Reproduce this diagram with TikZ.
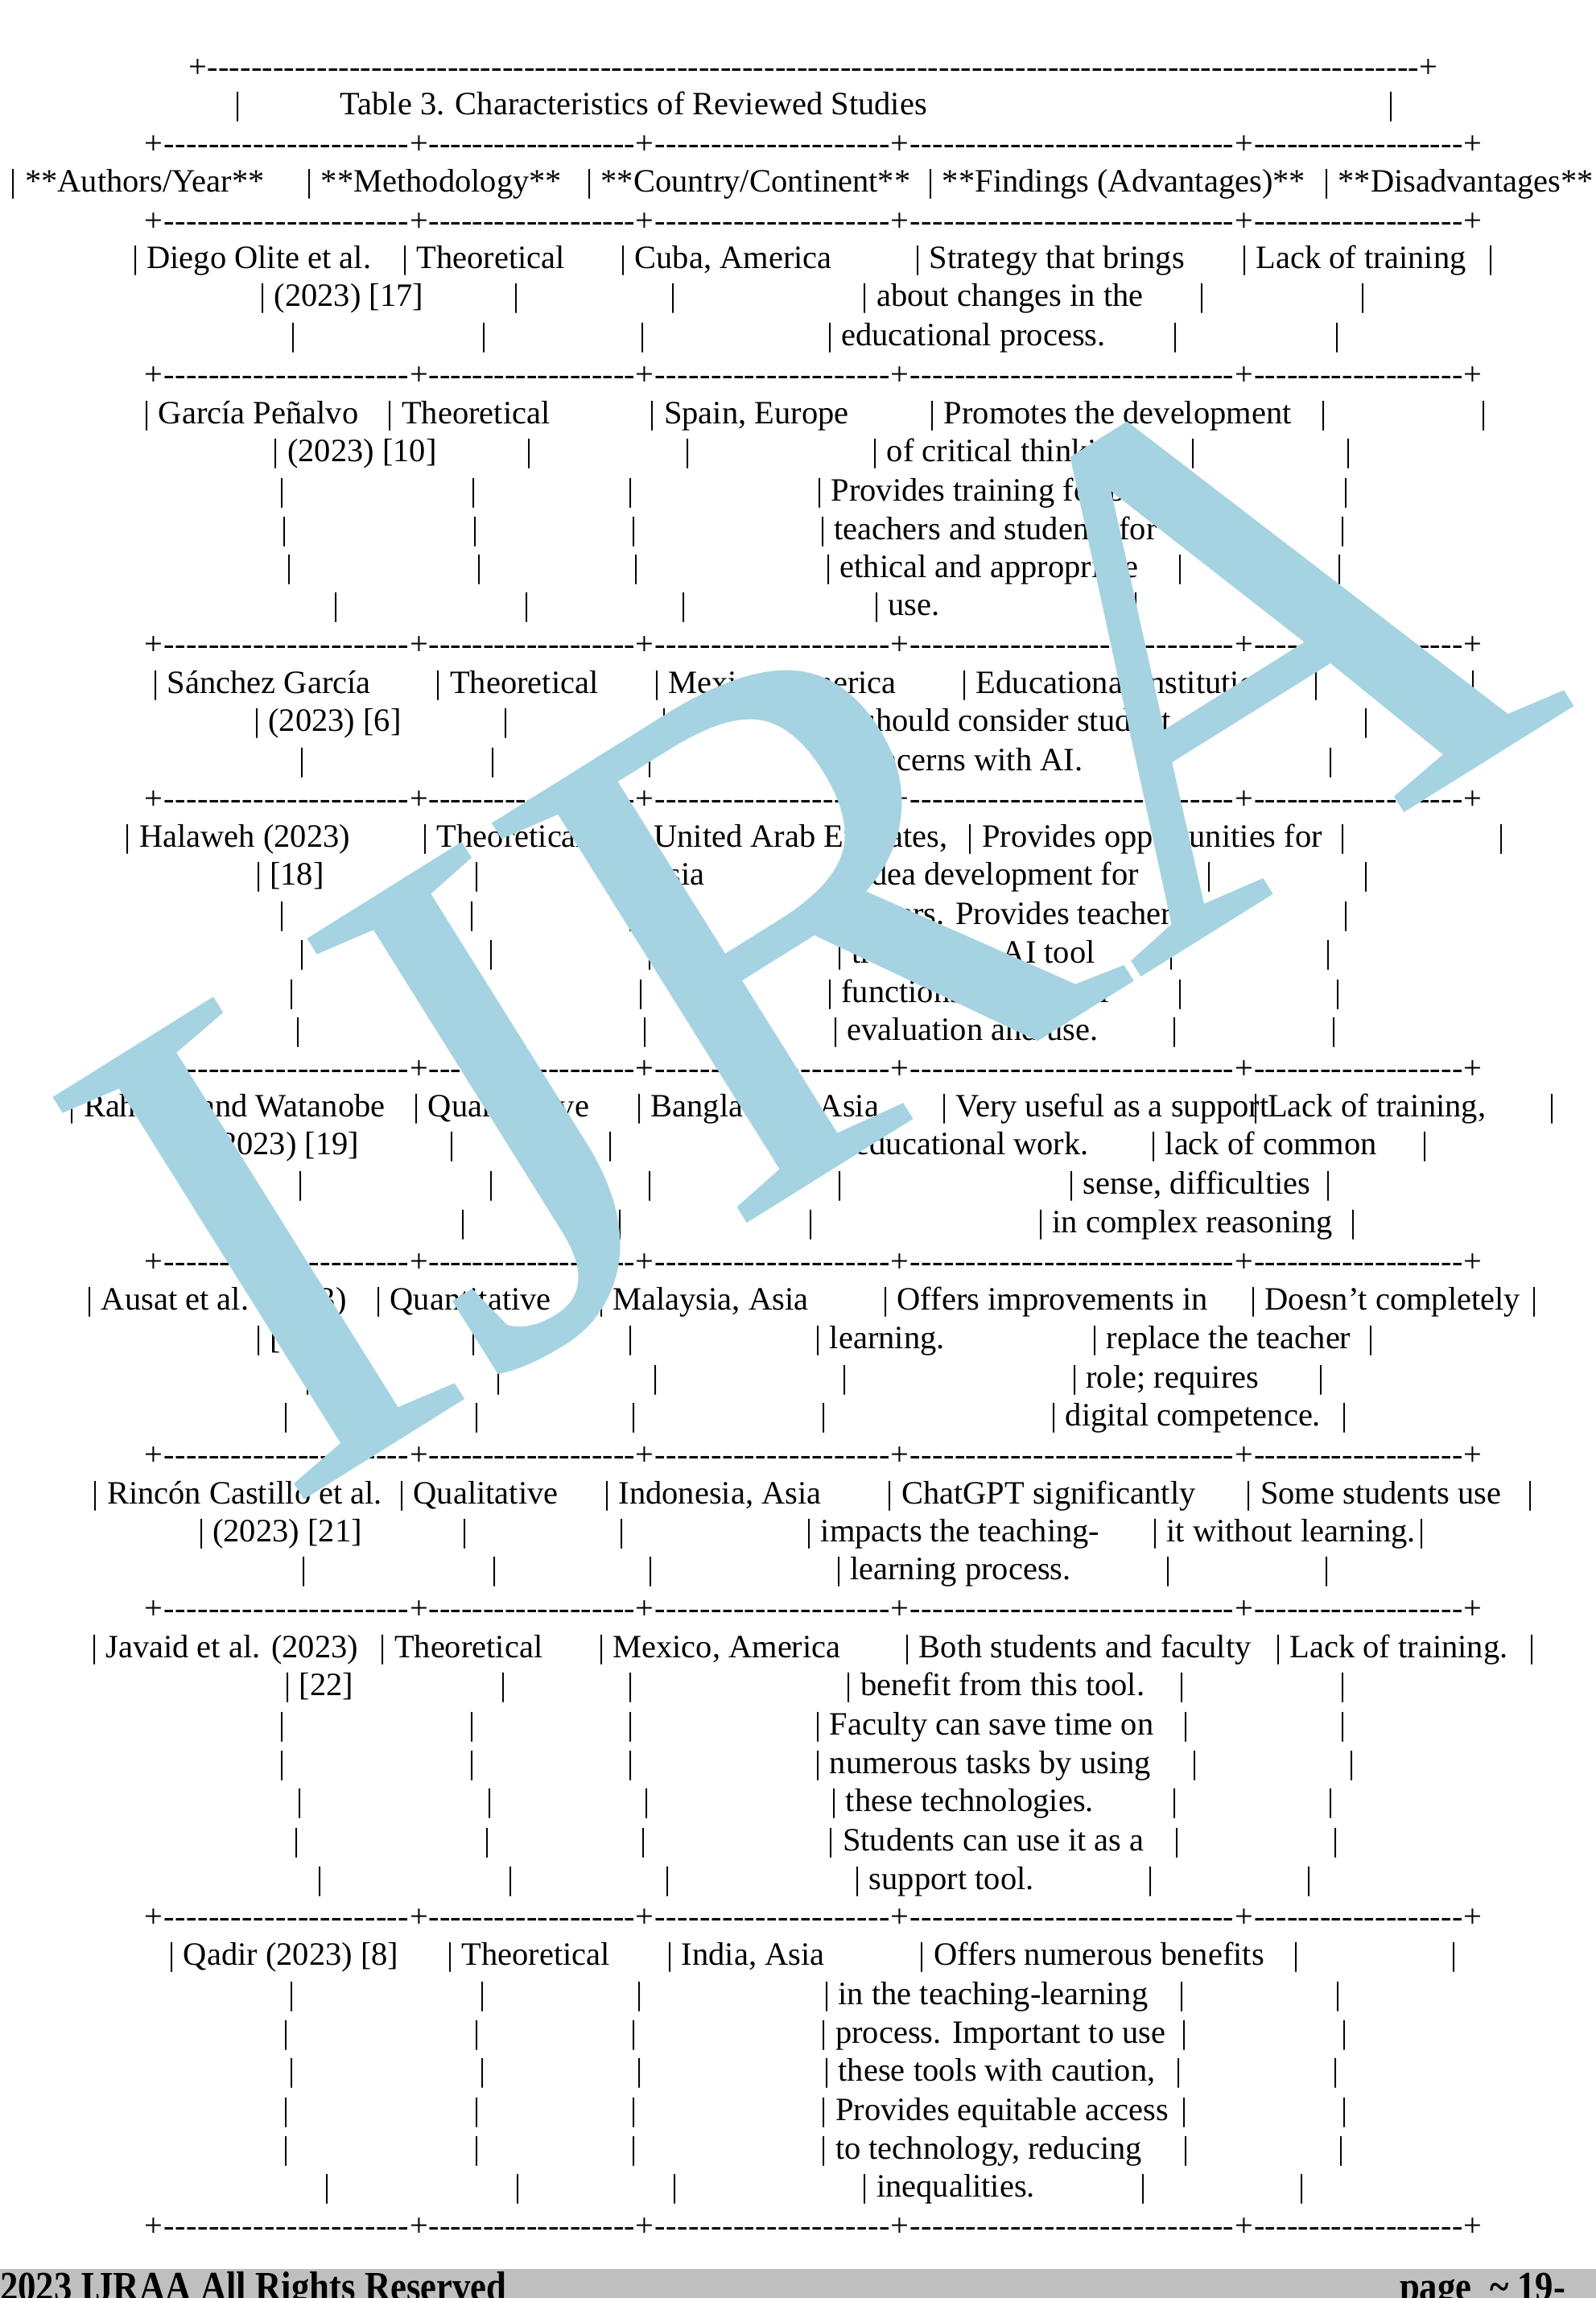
\documentclass[tikz,border=0pt]{standalone}
\usepackage{fontspec}
\setmainfont{Liberation Serif}
\begin{document}
\begin{tikzpicture}[x=1.821pt,y=-1.821pt,
  txt/.style={anchor=base west,inner sep=0pt,font=\fontsize{40.5}{44}\selectfont}]
\useasboundingbox (0,0) rectangle (1089,1568);
\clip (0,0) rectangle (1089,1568);
\fill[white] (0,0) rectangle (1089,1568);
\newcommand\Tx[3]{\node[txt] at ({#1},{#2+7}) {#3};}
\newcommand\Pp[2]{\node[txt] at ({#1},{#2+7}) {|};}
\newcommand\Sep[1]{%
  \foreach \a/\b in {105/286,286/440,440/614,614/849,849/1005}{%
    \pgfmathsetmacro\w{(\b-\a)*1.821-24}
    \node[txt,anchor=base] at ({(\a+\b)/2},{#1+7}) {\makebox[\w pt]{\xleaders\hbox{-}\hfill}};}
  \foreach \a in {105,286,440,614,849,1005}{\node[txt,anchor=base] at (\a,{#1+7}) {+};}}
% top line
\pgfmathsetmacro\w{(975-135)*1.821-24}
\node[txt,anchor=base] at (555,53) {\makebox[\w pt]{\xleaders\hbox{-}\hfill}};
\node[txt,anchor=base] at (135,53) {+};
\node[txt,anchor=base] at (975,53) {+};
\Pp{160}{71}\Tx{232}{71}{Table 3. Characteristics of Reviewed Studies}\Pp{947}{71}
\Sep{98}
\Tx{7}{124}{| **Authors/Year**}\Tx{209}{124}{| **Methodology**}\Tx{400}{124}{| **Country/Continent**}\Tx{633}{124}{| **Findings (Advantages)**}\Tx{903}{124}{| **Disadvantages**}
\Sep{151}
% row 1
\Tx{90}{176}{| Diego Olite et al.}\Tx{274}{176}{| Theoretical}\Tx{423}{176}{| Cuba, America}\Tx{624}{176}{| Strategy that brings}\Tx{847}{176}{| Lack of training}\Pp{1015}{176}
\Tx{177}{202}{| (2023) [17]}\Pp{350}{202}\Pp{457}{202}\Tx{588}{202}{| about changes in the}\Pp{818}{202}\Pp{928}{202}
\Pp{198}{229}\Pp{328}{229}\Pp{436}{229}\Tx{564}{229}{| educational process.}\Pp{800}{229}\Pp{910}{229}
\Sep{256}
% row 2
\Tx{98}{282}{| García Peñalvo}\Tx{264}{282}{| Theoretical}\Tx{443}{282}{| Spain, Europe}\Tx{634}{282}{| Promotes the development}\Pp{901}{282}\Pp{1010}{282}
\Tx{186}{308}{| (2023) [10]}\Pp{359}{308}\Pp{467}{308}\Tx{595}{308}{| of critical thinking.}\Pp{812}{308}\Pp{918}{308}
\Pp{190}{335}\Pp{321}{335}\Pp{428}{335}\Tx{557}{335}{| Provides training for both}\Pp{810}{335}\Pp{916}{335}
\Pp{192}{361}\Pp{322}{361}\Pp{430}{361}\Tx{559}{361}{| teachers and students for}\Pp{807}{361}\Pp{914}{361}
\Pp{195}{387}\Pp{325}{387}\Pp{432}{387}\Tx{563}{387}{| ethical and appropriate}\Pp{803}{387}\Pp{912}{387}
\Pp{227}{413}\Pp{357}{413}\Pp{464}{413}\Tx{596}{413}{| use.}\Pp{773}{413}\Pp{881}{413}
\Sep{440}
% row 3
\Tx{104}{466}{| Sánchez García}\Tx{297}{466}{| Theoretical}\Tx{446}{466}{| Mexico, America}\Tx{656}{466}{| Educational institutions}\Pp{896}{466}\Pp{1003}{466}
\Tx{173}{492}{| (2023) [6]}\Pp{343}{492}\Pp{451}{492}\Tx{579}{492}{| should consider student}\Pp{823}{492}\Pp{930}{492}
\Pp{204}{519}\Pp{334}{519}\Pp{441}{519}\Tx{570}{519}{| concerns with AI.}\Pp{796}{519}\Pp{906}{519}
\Sep{545}
% row 4
\Tx{85}{571}{| Halaweh (2023)}\Tx{288}{571}{| Theoretical}\Tx{436}{571}{| United Arab Emirates,}\Tx{660}{571}{| Provides opportunities for}\Pp{914}{571}\Pp{1022}{571}
\Tx{174}{597}{| [18]}\Pp{323}{597}\Tx{430}{597}{| Asia}\Tx{578}{597}{| idea development for}\Pp{823}{597}\Pp{930}{597}
\Pp{190}{624}\Pp{320}{624}\Pp{428}{624}\Tx{556}{624}{| teachers. Provides teacher}\Pp{810}{624}\Pp{916}{624}
\Pp{204}{650}\Pp{333}{650}\Pp{441}{650}\Tx{571}{650}{| training on AI tool}\Pp{797}{650}\Pp{904}{650}
\Pp{197}{677}\Pp{327}{677}\Pp{435}{677}\Tx{564}{677}{| functions and proper}\Pp{803}{677}\Pp{911}{677}
\Pp{201}{703}\Pp{330}{703}\Pp{438}{703}\Tx{568}{703}{| evaluation and use.}\Pp{799}{703}\Pp{908}{703}
\Sep{729}
% row 5
\Tx{47}{755}{| Rahman and Watanobe}\Tx{282}{755}{| Quantitative}\Tx{434}{755}{| Bangladesh, Asia}\Tx{642}{755}{| Very useful as a support}\Tx{855}{755}{| Lack of training,}\Pp{1057}{755}
\Tx{133}{781}{| (2023) [19]}\Pp{306}{781}\Pp{414}{781}\Tx{542}{781}{| for educational work.}\Tx{785}{781}{| lack of common}\Pp{970}{781}
\Pp{203}{808}\Pp{333}{808}\Pp{441}{808}\Pp{571}{808}\Tx{729}{808}{| sense, difficulties}\Pp{904}{808}
\Pp{184}{834}\Pp{314}{834}\Pp{421}{834}\Pp{551}{834}\Tx{708}{834}{| in complex reasoning}\Pp{921}{834}
\Sep{861}
% row 6
\Tx{59}{887}{| Ausat et al. (2023)}\Tx{256}{887}{| Quantitative}\Tx{408}{887}{| Malaysia, Asia}\Tx{602}{887}{| Offers improvements in}\Tx{853}{887}{| Doesn't completely}\Pp{1045}{887}
\Tx{174}{913}{| [20]}\Pp{321}{913}\Pp{428}{913}\Tx{556}{913}{| learning.}\Tx{745}{913}{| replace the teacher}\Pp{933}{913}
\Pp{208}{940}\Pp{338}{940}\Pp{445}{940}\Pp{574}{940}\Tx{731}{940}{| role; requires}\Pp{899}{940}
\Pp{193}{966}\Pp{323}{966}\Pp{430}{966}\Pp{560}{966}\Tx{717}{966}{| digital competence.}\Pp{915}{966}
\Sep{993}
% row 7
\Tx{63}{1019}{| Rincón Castillo et al.}\Tx{272}{1019}{| Qualitative}\Tx{412}{1019}{| Indonesia, Asia}\Tx{605}{1019}{| ChatGPT significantly}\Tx{850}{1019}{| Some students use}\Pp{1042}{1019}
\Tx{135}{1045}{| (2023) [21]}\Pp{315}{1045}\Pp{422}{1045}\Tx{550}{1045}{| impacts the teaching-}\Tx{786}{1045}{| it without learning.}\Pp{968}{1045}
\Pp{205}{1071}\Pp{335}{1071}\Pp{442}{1071}\Tx{570}{1071}{| learning process.}\Pp{795}{1071}\Pp{903}{1071}
\Sep{1098}
% row 8
\Tx{62}{1124}{| Javaid et al. (2023)}\Tx{259}{1124}{| Theoretical}\Tx{408}{1124}{| Mexico, America}\Tx{617}{1124}{| Both students and faculty}\Tx{870}{1124}{| Lack of training.}\Pp{1043}{1124}
\Tx{194}{1150}{| [22]}\Pp{341}{1150}\Pp{428}{1150}\Tx{577}{1150}{| benefit from this tool.}\Pp{804}{1150}\Pp{914}{1150}
\Pp{190}{1177}\Pp{320}{1177}\Pp{428}{1177}\Tx{556}{1177}{| Faculty can save time on}\Pp{807}{1177}\Pp{914}{1177}
\Pp{190}{1203}\Pp{320}{1203}\Pp{428}{1203}\Tx{556}{1203}{| numerous tasks by using}\Pp{813}{1203}\Pp{920}{1203}
\Pp{202}{1229}\Pp{332}{1229}\Pp{439}{1229}\Tx{567}{1229}{| these technologies.}\Pp{799}{1229}\Pp{906}{1229}
\Pp{200}{1256}\Pp{330}{1256}\Pp{437}{1256}\Tx{565}{1256}{| Students can use it as a}\Pp{801}{1256}\Pp{909}{1256}
\Pp{216}{1282}\Pp{346}{1282}\Pp{453}{1282}\Tx{583}{1282}{| support tool.}\Pp{783}{1282}\Pp{891}{1282}
\Sep{1308}
% row 9
\Tx{115}{1334}{| Qadir (2023) [8]}\Tx{305}{1334}{| Theoretical}\Tx{455}{1334}{| India, Asia}\Tx{627}{1334}{| Offers numerous benefits}\Pp{882}{1334}\Pp{990}{1334}
\Pp{197}{1361}\Pp{327}{1361}\Pp{434}{1361}\Tx{562}{1361}{| in the teaching-learning}\Pp{804}{1361}\Pp{911}{1361}
\Pp{193}{1387}\Pp{323}{1387}\Pp{430}{1387}\Tx{560}{1387}{| process. Important to use}\Pp{806}{1387}\Pp{915}{1387}
\Pp{197}{1413}\Pp{327}{1413}\Pp{434}{1413}\Tx{562}{1413}{| these tools with caution,}\Pp{802}{1413}\Pp{909}{1413}
\Pp{193}{1440}\Pp{323}{1440}\Pp{430}{1440}\Tx{560}{1440}{| Provides equitable access}\Pp{806}{1440}\Pp{915}{1440}
\Pp{193}{1466}\Pp{323}{1466}\Pp{430}{1466}\Tx{560}{1466}{| to technology, reducing}\Pp{807}{1466}\Pp{913}{1466}
\Pp{221}{1492}\Pp{351}{1492}\Pp{458}{1492}\Tx{588}{1492}{| inequalities.}\Pp{778}{1492}\Pp{886}{1492}
\Sep{1519}
% watermark
\definecolor{wm}{RGB}{166,211,225}
\node[text=wm,rotate=32,inner sep=0pt,font=\fontsize{900}{900}\selectfont] (wmark) at (550,620) {IJRA};
% footer
\fill[black!25] (0,1548) rectangle (1089,1568);
\node[anchor=base west,inner sep=0pt,font=\bfseries\fontsize{40}{40}\selectfont] (foot) at (0,1570) {\scalebox{1.12}[1.3]{2023 IJRAA All Rights Reserved}};
\node[anchor=base west,inner sep=0pt,font=\bfseries\fontsize{40}{40}\selectfont] (page) at (955,1570) {\scalebox{1.12}[1.3]{page\ \ \textasciitilde\ 19-}};
\end{tikzpicture}
\end{document}
